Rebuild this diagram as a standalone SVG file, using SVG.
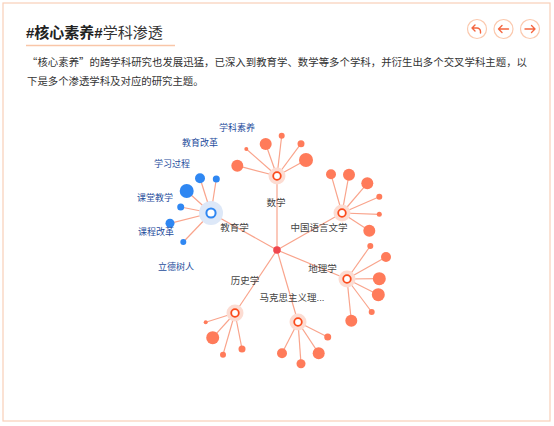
<svg xmlns="http://www.w3.org/2000/svg" width="554" height="426" viewBox="0 0 554 426">
<style>
.frame{fill:#fff;stroke:#f9cfb8;stroke-width:1.2}
.btn{fill:#fff;stroke:#fbc9ae;stroke-width:1.2}
.icon{fill:none;stroke:#f4653f;stroke-width:1.4;stroke-linecap:round;stroke-linejoin:round}
.title{font-family:"Liberation Sans","Noto Sans CJK SC",sans-serif;font-size:15px;fill:#333}
.para{font-family:"Noto Sans CJK SC",sans-serif;font-size:10.4px;fill:#333}
.link{stroke:#f9a48c;stroke-width:1.2;fill:none}
.leaf{fill:#ff7b5a}
.bleaf{fill:#2f87f2}
.halo{fill:#fcdcd2}
.bhalo{fill:#dde8f8}
.hub{fill:#fff;stroke:#fb4b1c;stroke-width:1.8}
.bhub{fill:#fff;stroke:#2f87f2;stroke-width:2}
.center{fill:#f0474e}
.lbl{font-family:"Liberation Sans","Noto Sans CJK SC",sans-serif;font-size:9.5px;fill:#444;text-anchor:middle}
.blbl{font-family:"Liberation Sans","Noto Sans CJK SC",sans-serif;font-size:9px;fill:#1e4d9c;text-anchor:middle}
</style>
<rect class="frame" x="3" y="3" width="547" height="418"/>
<g id="title">
<text class="title" x="26" y="37.5"><tspan font-weight="bold" fill="#222">#核心素养#</tspan>学科渗透</text>
<line x1="26" y1="45.5" x2="175" y2="45.5" stroke="#f9c6a8" stroke-width="1.5"/>
</g>
<g id="buttons">
<circle class="btn" cx="477" cy="29" r="9.5"/>
<path class="icon" d="M475 25 L472 28 L475 31 M472 28 H477 A3.5 3.5 0 0 1 480.5 31.5 V33"/>
<circle class="btn" cx="503.5" cy="29" r="9.5"/>
<path class="icon" d="M502 25.5 L498.5 29 L502 32.5 M498.5 29 H508.5"/>
<circle class="btn" cx="530" cy="29" r="9.5"/>
<path class="icon" d="M531.5 25.5 L535 29 L531.5 32.5 M535 29 H525"/>
</g>
<g id="paragraph">
<text class="para" x="27" y="66" textLength="500" lengthAdjust="spacing">“核心素养”的跨学科研究也发展迅猛，已深入到教育学、数学等多个学科，并衍生出多个交叉学科主题，以</text>
<text class="para" x="27" y="84.5">下是多个渗透学科及对应的研究主题。</text>
</g>
<g id="connectors">
<line class="link" x1="277" y1="250" x2="211" y2="213"/>
<line class="link" x1="277" y1="250" x2="277" y2="176"/>
<line class="link" x1="277" y1="250" x2="342" y2="213"/>
<line class="link" x1="277" y1="250" x2="347" y2="279"/>
<line class="link" x1="277" y1="250" x2="298" y2="322"/>
<line class="link" x1="277" y1="250" x2="235" y2="313"/>
<line class="link" x1="211" y1="213" x2="200" y2="178.3"/>
<line class="link" x1="211" y1="213" x2="216.3" y2="179"/>
<line class="link" x1="211" y1="213" x2="186.7" y2="191"/>
<line class="link" x1="211" y1="213" x2="180.7" y2="207"/>
<line class="link" x1="211" y1="213" x2="170" y2="223.3"/>
<line class="link" x1="211" y1="213" x2="183.3" y2="242"/>
<line class="link" x1="277" y1="176" x2="237.3" y2="165.7"/>
<line class="link" x1="277" y1="176" x2="246.3" y2="149"/>
<line class="link" x1="277" y1="176" x2="265.7" y2="144"/>
<line class="link" x1="277" y1="176" x2="281.7" y2="135.7"/>
<line class="link" x1="277" y1="176" x2="301" y2="143.7"/>
<line class="link" x1="277" y1="176" x2="306" y2="160"/>
<line class="link" x1="342" y1="213" x2="331" y2="174.3"/>
<line class="link" x1="342" y1="213" x2="349" y2="174.7"/>
<line class="link" x1="342" y1="213" x2="367.3" y2="183.3"/>
<line class="link" x1="342" y1="213" x2="379.3" y2="196.7"/>
<line class="link" x1="342" y1="213" x2="379.3" y2="214.3"/>
<line class="link" x1="342" y1="213" x2="369.3" y2="230.7"/>
<line class="link" x1="347" y1="279" x2="370.3" y2="246"/>
<line class="link" x1="347" y1="279" x2="386" y2="257"/>
<line class="link" x1="347" y1="279" x2="379.3" y2="278.7"/>
<line class="link" x1="347" y1="279" x2="378.3" y2="294.7"/>
<line class="link" x1="347" y1="279" x2="371.7" y2="312"/>
<line class="link" x1="347" y1="279" x2="351.3" y2="320.7"/>
<line class="link" x1="298" y1="322" x2="327.7" y2="337"/>
<line class="link" x1="298" y1="322" x2="318.7" y2="353.3"/>
<line class="link" x1="298" y1="322" x2="301" y2="363.7"/>
<line class="link" x1="298" y1="322" x2="282" y2="353.3"/>
<line class="link" x1="235" y1="313" x2="205.7" y2="322.3"/>
<line class="link" x1="235" y1="313" x2="212.7" y2="337.7"/>
<line class="link" x1="235" y1="313" x2="223" y2="354.7"/>
<line class="link" x1="235" y1="313" x2="242" y2="349"/>
</g>
<g id="node-center"><circle class="center" cx="277" cy="250" r="3.8"/></g>
<g id="node-jiaoyuxue">
<circle class="bhalo" cx="211" cy="213" r="12"/>
<circle class="bhub" cx="211" cy="213" r="4.6"/>
<text class="lbl" x="234.5" y="230.5">教育学</text>
</g>
<g id="leaves-jiaoyuxue">
<circle class="bleaf" cx="200" cy="178.3" r="5"/>
<circle class="bleaf" cx="216.3" cy="179" r="3.5"/>
<circle class="bleaf" cx="186.7" cy="191" r="7"/>
<circle class="bleaf" cx="180.7" cy="207" r="3.5"/>
<circle class="bleaf" cx="170" cy="223.3" r="4.5"/>
<circle class="bleaf" cx="183.3" cy="242" r="3"/>
<text class="blbl" x="237" y="131.3">学科素养</text>
<text class="blbl" x="200" y="146.3">教育改革</text>
<text class="blbl" x="172" y="167.3">学习过程</text>
<text class="blbl" x="155" y="201.3">课堂教学</text>
<text class="blbl" x="156" y="235.3">课程改革</text>
<text class="blbl" x="176" y="270">立德树人</text>
</g>
<g id="node-shuxue">
<circle class="halo" cx="277" cy="176" r="8.5"/>
<circle class="hub" cx="277" cy="176" r="3.8"/>
<text class="lbl" x="276" y="206">数学</text>
<circle class="leaf" cx="237.3" cy="165.7" r="6"/>
<circle class="leaf" cx="246.3" cy="149" r="2"/>
<circle class="leaf" cx="265.7" cy="144" r="6"/>
<circle class="leaf" cx="281.7" cy="135.7" r="3"/>
<circle class="leaf" cx="301" cy="143.7" r="3.5"/>
<circle class="leaf" cx="306" cy="160" r="7"/>
</g>
<g id="node-zhongwen">
<circle class="halo" cx="342" cy="213" r="8.5"/>
<circle class="hub" cx="342" cy="213" r="3.8"/>
<text class="lbl" x="319" y="230.5">中国语言文学</text>
<circle class="leaf" cx="331" cy="174.3" r="5"/>
<circle class="leaf" cx="349" cy="174.7" r="6"/>
<circle class="leaf" cx="367.3" cy="183.3" r="6"/>
<circle class="leaf" cx="379.3" cy="196.7" r="3"/>
<circle class="leaf" cx="379.3" cy="214.3" r="2.5"/>
<circle class="leaf" cx="369.3" cy="230.7" r="6"/>
</g>
<g id="node-dili">
<circle class="halo" cx="347" cy="279" r="8.5"/>
<circle class="hub" cx="347" cy="279" r="3.8"/>
<text class="lbl" x="322.5" y="272.3">地理学</text>
<circle class="leaf" cx="370.3" cy="246" r="3"/>
<circle class="leaf" cx="386" cy="257" r="5"/>
<circle class="leaf" cx="379.3" cy="278.7" r="6.5"/>
<circle class="leaf" cx="378.3" cy="294.7" r="6.5"/>
<circle class="leaf" cx="371.7" cy="312" r="3"/>
<circle class="leaf" cx="351.3" cy="320.7" r="6"/>
</g>
<g id="node-makesi">
<circle class="halo" cx="298" cy="322" r="8.5"/>
<circle class="hub" cx="298" cy="322" r="3.8"/>
<text class="lbl" x="292" y="300.5">马克思主义理...</text>
<circle class="leaf" cx="327.7" cy="337" r="3.5"/>
<circle class="leaf" cx="318.7" cy="353.3" r="6"/>
<circle class="leaf" cx="301" cy="363.7" r="4.5"/>
<circle class="leaf" cx="282" cy="353.3" r="5"/>
</g>
<g id="node-lishi">
<circle class="halo" cx="235" cy="313" r="8.5"/>
<circle class="hub" cx="235" cy="313" r="3.8"/>
<text class="lbl" x="245" y="284">历史学</text>
<circle class="leaf" cx="205.7" cy="322.3" r="2"/>
<circle class="leaf" cx="212.7" cy="337.7" r="6.5"/>
<circle class="leaf" cx="223" cy="354.7" r="3"/>
<circle class="leaf" cx="242" cy="349" r="3.5"/>
</g>
</svg>
